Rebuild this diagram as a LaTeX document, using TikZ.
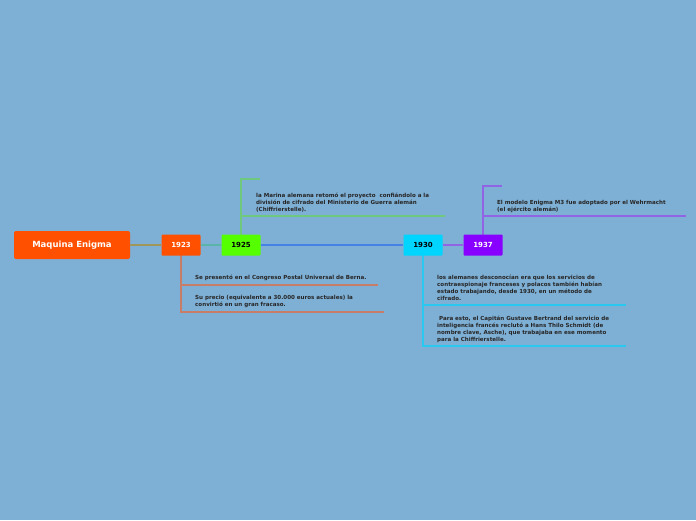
\documentclass[tikz,border=0pt]{standalone}
\usepackage{fontspec}
\setmainfont{DejaVu Sans}
\begin{document}
\begin{tikzpicture}[x=1pt,y=-1pt,
  yr/.style={draw=none,minimum width=39pt,minimum height=21pt,inner sep=0pt,rounded corners=1pt,font=\bfseries\fontsize{7}{8}\selectfont},
  tx/.style={anchor=north west,inner sep=0pt,align=left,font=\bfseries\fontsize{5.55}{6.9}\selectfont,text=black!85},
  ln/.style={line width=1.1pt}]
\fill[fill={rgb,255:red,126;green,175;blue,212}] (0,0) rectangle (696,520);
\useasboundingbox (0,0) rectangle (696,520);
\definecolor{cO}{RGB}{255,80,0}\definecolor{cG}{RGB}{85,255,0}\definecolor{cC}{RGB}{0,213,255}\definecolor{cP}{RGB}{136,0,255}
\definecolor{lO}{RGB}{200,125,105}\definecolor{lG}{RGB}{110,200,125}\definecolor{lC}{RGB}{40,200,240}\definecolor{lP}{RGB}{145,100,230}
\coordinate (a1) at (378,285); \coordinate (a2) at (384,312);
\coordinate (b1) at (260,179); \coordinate (b2) at (445,216);
\coordinate (c1) at (626,305); \coordinate (c2) at (626,346);
\coordinate (d1) at (502,186); \coordinate (d2) at (686,216);
\coordinate (ac) at (181,245); \coordinate (bc) at (241,245);
\coordinate (cc) at (423,245); \coordinate (dc) at (483,245);
\draw[ln,draw=lO] (ac) |- (a1);
\draw[ln,draw=lO] (ac) |- (a2);
\draw[ln,draw=lG] (bc) |- (b1);
\draw[ln,draw=lG] (bc) |- (b2);
\draw[ln,draw=lC] (cc) |- (c1);
\draw[ln,draw=lC] (cc) |- (c2);
\draw[ln,draw=lP] (dc) |- (d1);
\draw[ln,draw=lP] (dc) |- (d2);
\node[fill=cO,text=white,minimum width=116pt,minimum height=28pt,rounded corners=2pt,font=\bfseries\fontsize{8.5}{10}\selectfont] (m) at (72,245) {Maquina Enigma};
\node[yr,fill=cO,text=white] (a) at (ac) {1923};
\node[yr,fill=cG,text=black] (b) at (bc) {1925};
\node[yr,fill=cC,text=black] (c) at (cc) {1930};
\node[yr,fill=cP,text=white] (d) at (dc) {1937};
\draw[ln,draw={rgb,255:red,160;green,150;blue,90}] (m.east) -- (a.west);
\draw[ln,draw={rgb,255:red,90;green,180;blue,170}] (a.east) -- (b.west);
\draw[ln,draw={rgb,255:red,70;green,130;blue,230}] (b.east) -- (c.west);
\draw[ln,draw=lP] (c.east) -- (d.west);
\node[tx] (ta1) at (195,275) {Se presentó en el Congreso Postal Universal de Berna.};
\node[tx] (ta2) at (195,295) {Su precio (equivalente a 30.000 euros actuales) la\\convirtió en un gran fracaso.};
\node[tx] (tb) at (256,193) {la Marina alemana retomó el proyecto\ \ confiándolo a la\\división de cifrado del Ministerio de Guerra alemán\\(Chiffrierstelle).};
\node[tx] (tc1) at (437,275) {los alemanes desconocían era que los servicios de\\contraespionaje franceses y polacos también habían\\estado trabajando, desde 1930, en un método de\\cifrado.};
\node[tx] (tc2) at (437,316) {\ Para esto, el Capitán Gustave Bertrand del servicio de\\inteligencia francés reclutó a Hans Thilo Schmidt (de\\nombre clave, Asche), que trabajaba en ese momento\\para la Chiffrierstelle.};
\node[tx] (td) at (497,200) {El modelo Enigma M3 fue adoptado por el Wehrmacht\\(el ejército alemán)};
\end{tikzpicture}
\end{document}
